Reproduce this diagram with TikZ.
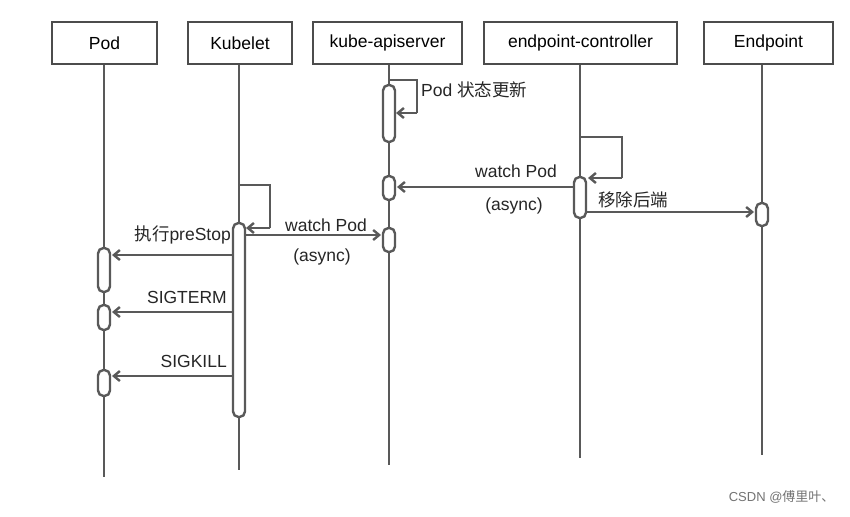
\documentclass[tikz,border=0pt]{standalone}
\usepackage{fontspec}
\setmainfont{Liberation Sans}
\newfontfamily\cjk{Noto Sans CJK SC}
\usetikzlibrary{arrows.meta}
\begin{document}
\begin{tikzpicture}[x=1pt,y=-1pt,
  ln/.style={draw=black!65,line width=2.4pt},
  box/.style={ln,draw=black!70,fill=white,minimum width=#1,minimum height=42pt,inner sep=0pt,font=\fontsize{17.5}{19}\selectfont},
  act/.style={ln,fill=white,rounded corners=5.5pt},
  msg/.style={ln,-{Straight Barb[length=6pt,width=10pt]}},
  lab/.style={font=\fontsize{17.5}{19}\selectfont,text=black!85,inner sep=1pt}]
\useasboundingbox (0,0) rectangle (850,516);
\fill[white] (0,0) rectangle (850,516);
% lifelines
\coordinate (p0) at (104,64); \coordinate (p1) at (104,477);
\coordinate (k0) at (239,64); \coordinate (k1) at (239,470);
\coordinate (a0) at (389,64); \coordinate (a1) at (389,465);
\coordinate (c0) at (580,64); \coordinate (c1) at (580,458);
\coordinate (e0) at (762,64); \coordinate (e1) at (762,455);
\draw[ln] (p0)--(p1); \draw[ln] (k0)--(k1); \draw[ln] (a0)--(a1); \draw[ln] (c0)--(c1); \draw[ln] (e0)--(e1);
\node[box=105pt] (pod) at (104.5,43) {Pod};
\node[box=104pt] (kub) at (240,43) {Kubelet};
\node[box=149pt] (api) at (387.5,43) {kube-apiserver};
\node[box=193pt] (epc) at (580.5,43) {endpoint-controller};
\node[box=129pt] (ep) at (768.5,43) {Endpoint};
% self loops
\coordinate (sa) at (389,80);
\draw[ln] (sa) -| (417,113) coordinate (sa2);
\draw[msg] (sa2) -- (396,113);
\node[lab,anchor=west] (l1) at (420,90) {Pod {\cjk 状态更新}};
\coordinate (sc) at (580,137);
\draw[ln] (sc) -| (622,178) coordinate (sc2);
\draw[msg] (sc2) -- (588,178);
\coordinate (sk) at (239,185);
\draw[ln] (sk) -| (270,228) coordinate (sk2);
\draw[msg] (sk2) -- (246,228);
% activations
\draw[act] (383,85) rectangle (395,142);
\draw[act] (383,176) rectangle (395,200);
\draw[act] (383,228) rectangle (395,252);
\draw[act] (574,177) rectangle (586,218);
\draw[act] (756,203) rectangle (768,226);
\draw[act] (233,223) rectangle (245,417);
\draw[act] (98,248) rectangle (110,292);
\draw[act] (98,305) rectangle (110,330);
\draw[act] (98,370) rectangle (110,396);
% messages
\draw[msg] (574,187) -- (397,187);
\node[lab] at (516,171) {watch Pod};
\node[lab] at (514,206) {(async)};
\draw[msg] (586,212) -- (754,212);
\node[lab,anchor=west] at (597,200) {\cjk 移除后端};
\draw[msg] (245,235) -- (381,235);
\node[lab] at (326,225) {watch Pod};
\node[lab] at (322,257) {(async)};
\draw[msg] (233,255) -- (112,255);
\node[lab,anchor=east] at (232,235) {{\cjk 执行}preStop};
\draw[msg] (233,312) -- (112,312);
\node[lab,anchor=east] at (228,297) {SIGTERM};
\draw[msg] (233,376) -- (112,376);
\node[lab,anchor=east] at (228,361) {SIGKILL};
\node[font=\fontsize{13}{15}\selectfont,text=black!55,anchor=east] (wm) at (838,497) {CSDN @{\cjk 傅里叶、}};
\end{tikzpicture}
\end{document}
